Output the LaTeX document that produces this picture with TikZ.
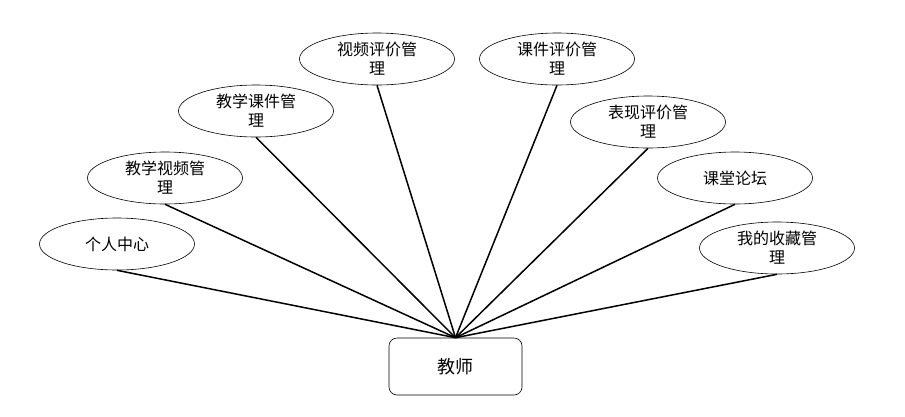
\documentclass[tikz,border=0pt]{standalone}
\usepackage{fontspec}
\setmainfont{Noto Sans CJK SC}
\usetikzlibrary{shapes.geometric}
\begin{document}
\begin{tikzpicture}[x=1pt,y=-1pt,
  ell/.style={ellipse,draw,line width=0.6pt,minimum width=155pt,minimum height=52pt,inner sep=0pt,align=center,font=\fontsize{16}{19}\selectfont},
  con/.style={line width=1.5pt}]
\useasboundingbox (0,0) rectangle (905,416);
\node[ell] (a) at (117,244) {个人中心};
\node[ell] (b) at (165,178) {教学视频管\\理};
\node[ell] (c) at (256,111) {教学课件管\\理};
\node[ell] (d) at (377,59) {视频评价管\\理};
\node[ell] (e) at (557,59) {课件评价管\\理};
\node[ell] (f) at (648,122) {表现评价管\\理};
\node[ell] (g) at (735,178) {课堂论坛};
\node[ell] (h) at (777,248) {我的收藏管\\理};
\node[draw,line width=0.6pt,rounded corners=8pt,minimum width=133pt,minimum height=57pt,font=\fontsize{18}{21}\selectfont] (t) at (455.5,366.5) {教师};
\foreach \n in {a,b,c,d,e,f,g,h} \draw[con] (\n.south) -- (t.north);
\end{tikzpicture}
\end{document}
